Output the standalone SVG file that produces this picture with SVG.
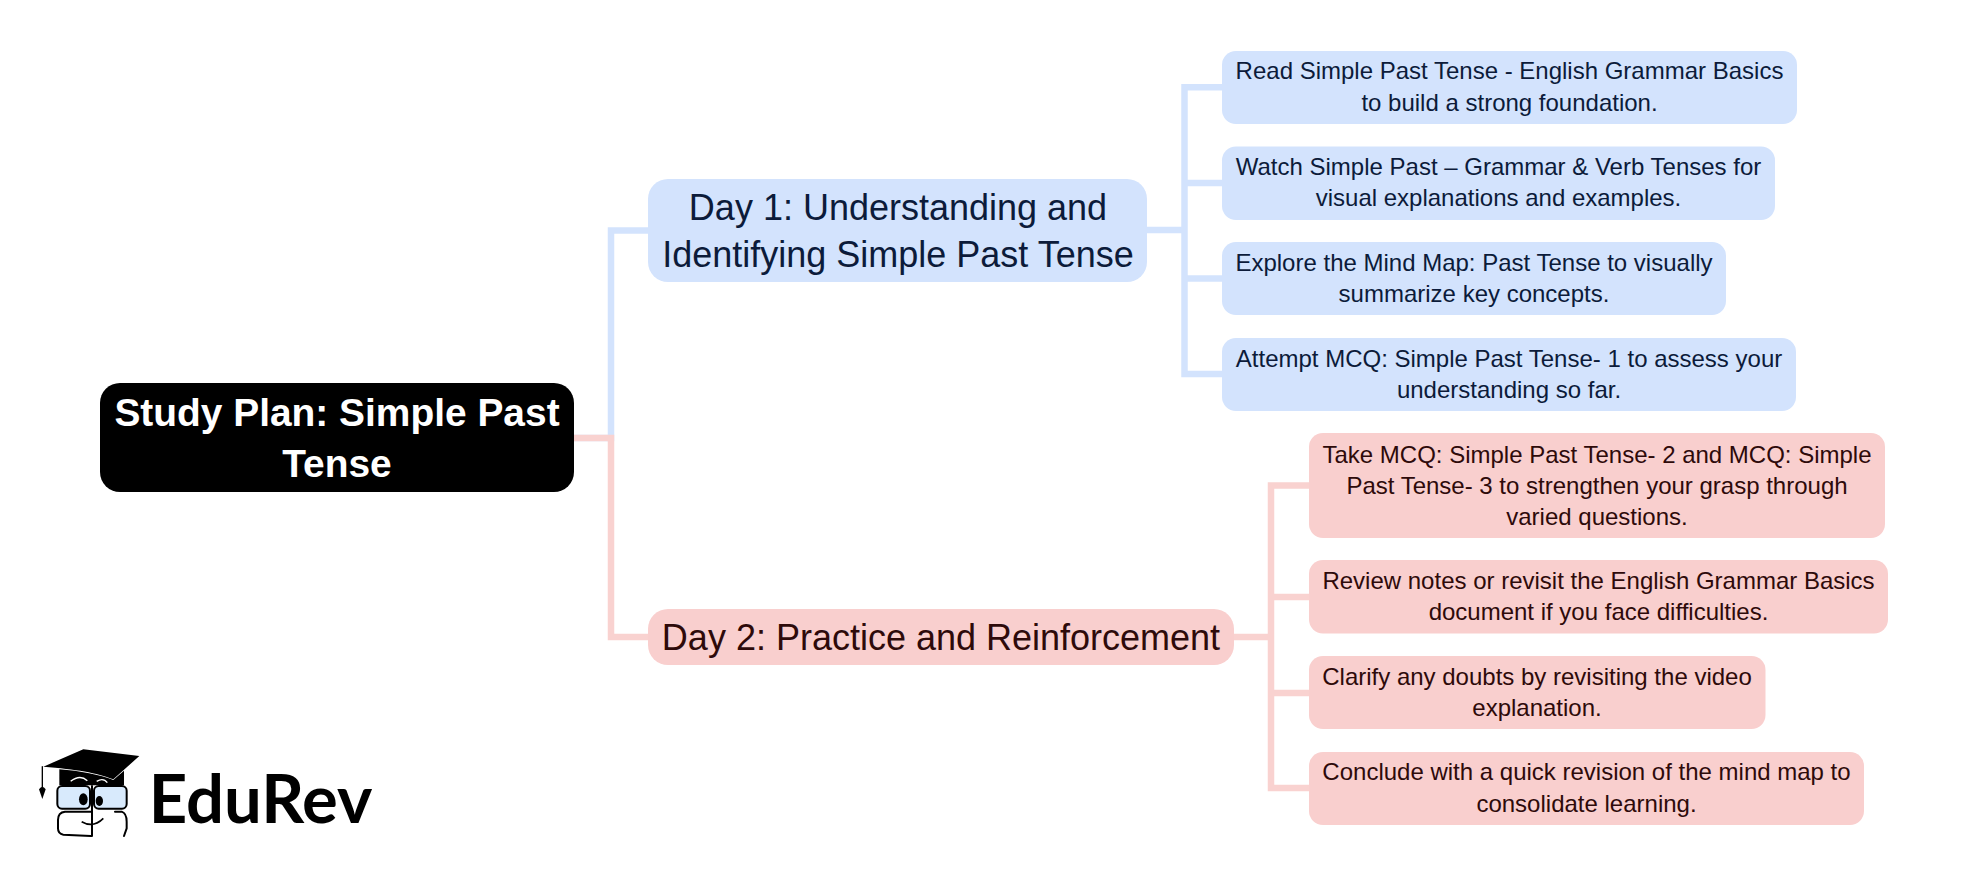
<svg xmlns="http://www.w3.org/2000/svg" width="1988" height="875" viewBox="0 0 1988 875">
<style>
text{font-family:"Liberation Sans",Arial,sans-serif;text-anchor:middle}
.c{fill:none;stroke-width:6.500}
.cb{stroke:#D3E3FD}
.cp{stroke:#F9D2D0}
.b{fill:#D3E3FD}
.p{fill:#F9CFCE}
.bt{fill:#0C1B3A}
.pt{fill:#2E0A0A}
.s{font-size:24px}
.m{font-size:36px}
.r{font-size:38.900px;font-weight:700;fill:#fff}
.l{fill:none;stroke:#000;stroke-width:6;stroke-linecap:round;stroke-linejoin:round}
</style>
<rect width="1988" height="875" fill="#fff"/>
<g id="connectors">
<path class="c cb" d="M574 438H611V230.500H648"/>
<path class="c cb" d="M1147 230H1184.500M1222 87.300H1184.500V374H1222M1222 183H1184.500M1222 278.500H1184.500"/>
<path class="c cp" d="M574 438H611V637H648"/>
<path class="c cp" d="M1234 637H1271M1309 485.500H1271V788H1309M1309 597H1271M1309 693H1271"/>
</g>
<g id="root"><rect x="100" y="383" width="474" height="109" rx="20" fill="#000"/>
<text class="r" x="337" y="425.500">Study Plan: Simple Past</text><text class="r" x="337" y="476.500">Tense</text></g>
<g id="day1"><rect class="b" x="648" y="179" width="499" height="103" rx="20"/>
<text class="m bt" x="898" y="219.500">Day 1: Understanding and</text><text class="m bt" x="898" y="266.500">Identifying Simple Past Tense</text></g>
<g id="day2"><rect class="p" x="648" y="609" width="586" height="56" rx="20"/>
<text class="m pt" x="941" y="649.500">Day 2: Practice and Reinforcement</text></g>
<g id="d1a"><rect class="b" x="1222" y="51" width="575" height="73" rx="14"/>
<text class="s bt" x="1509.500" y="79">Read Simple Past Tense - English Grammar Basics</text><text class="s bt" x="1509.500" y="111">to build a strong foundation.</text></g>
<g id="d1b"><rect class="b" x="1222" y="146.500" width="553" height="73.500" rx="14"/>
<text class="s bt" x="1498.500" y="175">Watch Simple Past – Grammar &amp; Verb Tenses for</text><text class="s bt" x="1498.500" y="206">visual explanations and examples.</text></g>
<g id="d1c"><rect class="b" x="1222" y="242" width="504" height="73" rx="14"/>
<text class="s bt" x="1474" y="271">Explore the Mind Map: Past Tense to visually</text><text class="s bt" x="1474" y="302">summarize key concepts.</text></g>
<g id="d1d"><rect class="b" x="1222" y="338" width="574" height="73" rx="14"/>
<text class="s bt" x="1509" y="367">Attempt MCQ: Simple Past Tense- 1 to assess your</text><text class="s bt" x="1509" y="398">understanding so far.</text></g>
<g id="d2a"><rect class="p" x="1309" y="433" width="576" height="105" rx="14"/>
<text class="s pt" x="1597" y="463">Take MCQ: Simple Past Tense- 2 and MCQ: Simple</text><text class="s pt" x="1597" y="494">Past Tense- 3 to strengthen your grasp through</text><text class="s pt" x="1597" y="525">varied questions.</text></g>
<g id="d2b"><rect class="p" x="1309" y="560" width="579" height="73.500" rx="14"/>
<text class="s pt" x="1598.500" y="589">Review notes or revisit the English Grammar Basics</text><text class="s pt" x="1598.500" y="620">document if you face difficulties.</text></g>
<g id="d2c"><rect class="p" x="1309" y="656" width="456.500" height="73" rx="14"/>
<text class="s pt" x="1537" y="685">Clarify any doubts by revisiting the video</text><text class="s pt" x="1537" y="716">explanation.</text></g>
<g id="d2d"><rect class="p" x="1309" y="752" width="555" height="73" rx="14"/>
<text class="s pt" x="1586.500" y="780">Conclude with a quick revision of the mind map to</text><text class="s pt" x="1586.500" y="812">consolidate learning.</text></g>
<g id="logo">
<g transform="translate(0 700) scale(.33333)">
<path d="M130 200L250 148L418 168L340 238C290 218 230 208 130 200Z" fill="#000"/>
<path d="M178 208C240 212 300 225 340 240L372 212V256H178Z" fill="#000"/>
<path d="M127 200V262" class="l" style="stroke-width:4"/>
<path d="M117 268Q127 252 137 268L127 297Z" fill="#000"/>
<path d="M212 244Q240 222 262 242M290 244Q310 232 322 248" fill="none" stroke="#fff" stroke-width="4"/>
<rect x="172" y="258" width="98" height="68" rx="14" fill="#D8EAFC" stroke="#000" stroke-width="6"/>
<rect x="282" y="258" width="98" height="68" rx="14" fill="#D8EAFC" stroke="#000" stroke-width="6"/>
<ellipse cx="250" cy="298" rx="13" ry="18" fill="#000"/>
<ellipse cx="298" cy="303" rx="11" ry="15" fill="#000"/>
<path d="M272 335H195Q174 337 174 360V385Q174 402 190 404L272 408M276 258V408M345 335H365Q380 340 380 365V385L372 408" class="l"/>
<path d="M245 365Q280 385 310 355" fill="none" stroke="#000" stroke-width="5"/>
</g>
<text x="260.500" y="823" style="font-family:Lato,'Noto Sans',sans-serif;font-size:67px;font-weight:700;fill:#000">EduRev</text>
</g>
</svg>
